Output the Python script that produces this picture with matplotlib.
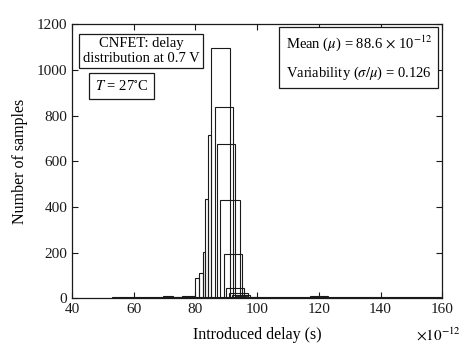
#!/usr/bin/env python3
"""Delay distribution histogram (CNFET at 0.7 V)."""

import matplotlib
matplotlib.use("Agg")
import matplotlib.pyplot as plt

# outlined bins: left edge, right edge, count (delay in units of 1e-12 s)
bin_left = [53.0, 69.5, 72.8, 75.5, 97.5, 117.0,
            79.9, 81.0, 82.3, 83.1, 84.0,
            85.0, 86.2, 86.9, 88.0, 89.1, 90.0, 90.9, 91.8]
bin_right = [159.5, 72.8, 75.5, 79.9, 100.3, 123.0,
             81.0, 82.3, 83.1, 84.0, 85.0,
             91.25, 92.1, 92.9, 94.5, 95.0, 95.9, 97.1, 97.6]
bin_count = [5, 10, 8, 9, 8, 10,
             88, 111, 204, 436, 717,
             1097, 838, 676, 432, 194, 46, 24, 15]

# dense overlap near the base, drawn solid
solid_left = [53.0, 92.9, 100.3]
solid_right = [159.5, 96.7, 105.0]
solid_count = [4, 9, 5]

x_ticks = [40, 60, 80, 100, 120, 140, 160]
y_ticks = [0, 200, 400, 600, 800, 1000, 1200]

plt.rcParams["font.family"] = ["Liberation Serif", "DejaVu Serif"]
plt.rcParams["mathtext.fontset"] = "stix"
plt.rcParams["font.size"] = 10.5

fig = plt.figure(figsize=(4.74, 3.6), dpi=100)
ax = fig.add_axes([0.152, 0.171, 0.781, 0.762])

widths = [r - l for l, r in zip(bin_left, bin_right)]
ax.bar(bin_left, bin_count, width=widths, align="edge", fill=False,
       edgecolor="#1a1a1a", linewidth=0.8)
solid_w = [r - l for l, r in zip(solid_left, solid_right)]
ax.bar(solid_left, solid_count, width=solid_w, align="edge",
       color="#1a1a1a", edgecolor="#1a1a1a", linewidth=0.6)

ax.set_xlim(40, 160)
ax.set_ylim(0, 1200)
ax.set_xticks(x_ticks)
ax.set_yticks(y_ticks)
ax.tick_params(direction="in", top=True, right=True, length=4, width=0.8,
               labelsize=11, colors="#1a1a1a")
for s in ax.spines.values():
    s.set_linewidth(0.9)
    s.set_color("#1a1a1a")

ax.set_xlabel("Introduced delay (s)", fontsize=11.5, labelpad=8)
ax.set_ylabel("Number of samples", fontsize=11.5, labelpad=6)
ax.text(0.99, -0.135, r"$\times 10^{-12}$", transform=ax.transAxes,
        ha="center", va="center", fontsize=11)

box = dict(boxstyle="square,pad=0.25", facecolor="white",
           edgecolor="#1a1a1a", linewidth=0.9)
ax.text(0.186, 0.902, "CNFET: delay\ndistribution at 0.7 V",
        transform=ax.transAxes, ha="center", va="center",
        multialignment="center", linespacing=1.15, bbox=box)
ax.text(0.134, 0.774, r"$T$ = 27$^{\circ}$C", transform=ax.transAxes,
        ha="center", va="center",
        bbox=dict(boxstyle="square,pad=0.4", facecolor="white",
                  edgecolor="#1a1a1a", linewidth=0.9))
ax.text(0.577, 0.878,
        "Mean ($\\mu$) = 88.6 $\\times$ 10$^{-12}$\n"
        "Variability ($\\sigma/\\mu$) = 0.126",
        transform=ax.transAxes, ha="left", va="center", linespacing=1.9,
        bbox=dict(boxstyle="square,pad=0.45", facecolor="white",
                  edgecolor="#1a1a1a", linewidth=0.9))

fig.savefig("out.png", dpi=100)
